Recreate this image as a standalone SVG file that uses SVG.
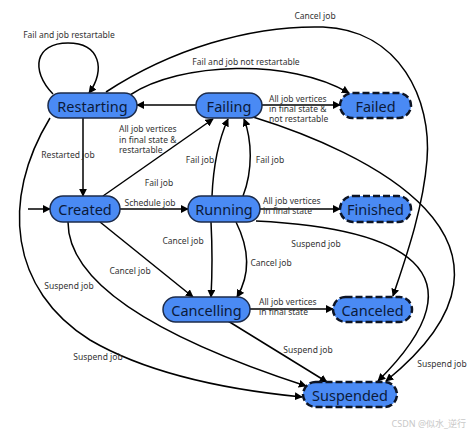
<svg xmlns="http://www.w3.org/2000/svg" width="474" height="434" viewBox="0 0 474 434">
<defs>
<marker id="ah" viewBox="0 0 10 10" refX="9" refY="5" markerWidth="8" markerHeight="8" markerUnits="userSpaceOnUse" orient="auto">
<path d="M0,0 L10,5 L0,10 Z" fill="#000"/>
</marker>
</defs>
<style>
.node rect{fill:#4a8af4;stroke:#1c2b4a;stroke-width:1.5}
.final rect{stroke:#0d1424;stroke-width:2.5;stroke-dasharray:7 3}
.node text{font-family:"Noto Sans","Open Sans",sans-serif;font-size:14.5px;fill:#0b1a3a;text-anchor:middle;dominant-baseline:central}
.edges path{fill:none;stroke:#000;stroke-width:1.5;marker-end:url(#ah)}
.lbl{font-family:"Noto Sans","Open Sans",sans-serif;font-size:8.5px;fill:#333}
</style>
<rect width="474" height="434" fill="#fff"/>
<g class="edges">
<path d="M53 94 C30 70 35 43 68 43 C100 43 106 70 89 93"/>
<path d="M196 105 L137 105"/>
<path d="M83 118 L83 196"/>
<path d="M103 196 L213 119"/>
<path d="M212 196 Q214 150 228 119"/>
<path d="M243 196 C253 170 252 140 244 119"/>
<path d="M262 105 L340 105"/>
<path d="M130 95 C180 62 290 58 349 93"/>
<path d="M106 92 C170 50 250 25 323 27 C400 30 432 100 427 160 C423 210 405 260 393 296"/>
<path d="M253 117 C360 150 560 240 386 381"/>
<path d="M256 221 C400 228 490 270 378 381"/>
<path d="M28 209 L50 209"/>
<path d="M120 209 L188 209"/>
<path d="M260 209 L340 209"/>
<path d="M211 222 Q213 260 211 297"/>
<path d="M236 222 C250 250 250 275 237 297"/>
<path d="M100 222 L193 297"/>
<path d="M250 309 L333 309"/>
<path d="M228 321 L327 382"/>
<path d="M68 222 C68 290 180 345 306 386"/>
<path d="M50 118 C0 200 10 290 90 340 C150 375 230 390 302 397"/>
</g>
<g id="labels">
<text class="lbl" x="69" y="38" text-anchor="middle">Fail and job restartable</text>
<text class="lbl" x="246" y="65" text-anchor="middle">Fail and job not restartable</text>
<text class="lbl" x="315" y="19" text-anchor="middle">Cancel job</text>
<text class="lbl" x="269" y="102">All job vertices</text>
<text class="lbl" x="269" y="112">in final state &amp;</text>
<text class="lbl" x="269" y="122">not restartable</text>
<text class="lbl" x="119" y="132">All job vertices</text>
<text class="lbl" x="119" y="143">in final state &amp;</text>
<text class="lbl" x="119" y="153">restartable</text>
<text class="lbl" x="68" y="158" text-anchor="middle">Restarted job</text>
<text class="lbl" x="159" y="186" text-anchor="middle">Fail job</text>
<text class="lbl" x="200" y="163" text-anchor="middle">Fail job</text>
<text class="lbl" x="270" y="163" text-anchor="middle">Fail job</text>
<text class="lbl" x="150" y="206" text-anchor="middle">Schedule job</text>
<text class="lbl" x="263" y="204">All job vertices</text>
<text class="lbl" x="263" y="214">in final state</text>
<text class="lbl" x="316" y="247" text-anchor="middle">Suspend job</text>
<text class="lbl" x="183" y="244" text-anchor="middle">Cancel job</text>
<text class="lbl" x="271" y="266" text-anchor="middle">Cancel job</text>
<text class="lbl" x="130" y="274" text-anchor="middle">Cancel job</text>
<text class="lbl" x="69" y="289" text-anchor="middle">Suspend job</text>
<text class="lbl" x="259" y="305">All job vertices</text>
<text class="lbl" x="259" y="315">in final state</text>
<text class="lbl" x="308" y="353" text-anchor="middle">Suspend job</text>
<text class="lbl" x="98" y="360" text-anchor="middle">Suspend job</text>
<text class="lbl" x="442" y="367" text-anchor="middle">Suspend job</text>
</g>
<g id="restarting" class="node"><rect x="48" y="93" width="89" height="25" rx="12.5"/><text x="92.5" y="105.5">Restarting</text></g>
<g id="failing" class="node"><rect x="196" y="93" width="66" height="25" rx="12.5"/><text x="229" y="105.5">Failing</text></g>
<g id="failed" class="node final"><rect x="340" y="93" width="71" height="25" rx="12.5"/><text x="375.5" y="105.5">Failed</text></g>
<g id="created" class="node"><rect x="50" y="196" width="70" height="26" rx="13"/><text x="85" y="209">Created</text></g>
<g id="running" class="node"><rect x="188" y="196" width="72" height="26" rx="13"/><text x="224" y="209">Running</text></g>
<g id="finished" class="node final"><rect x="340" y="196" width="71" height="26" rx="13"/><text x="375.5" y="209">Finished</text></g>
<g id="cancelling" class="node"><rect x="163" y="297" width="87" height="25" rx="12.5"/><text x="206.5" y="309.5">Cancelling</text></g>
<g id="canceled" class="node final"><rect x="333" y="297" width="79" height="25" rx="12.5"/><text x="372.5" y="309.5">Canceled</text></g>
<g id="suspended" class="node final"><rect x="303" y="382" width="94" height="25" rx="12.5"/><text x="350" y="394.5">Suspended</text></g>
<text x="466" y="427" text-anchor="end" font-family="'Noto Sans','Noto Sans CJK SC',sans-serif" font-size="9" fill="#c8c8c8">CSDN @似水_逆行</text>
</svg>
